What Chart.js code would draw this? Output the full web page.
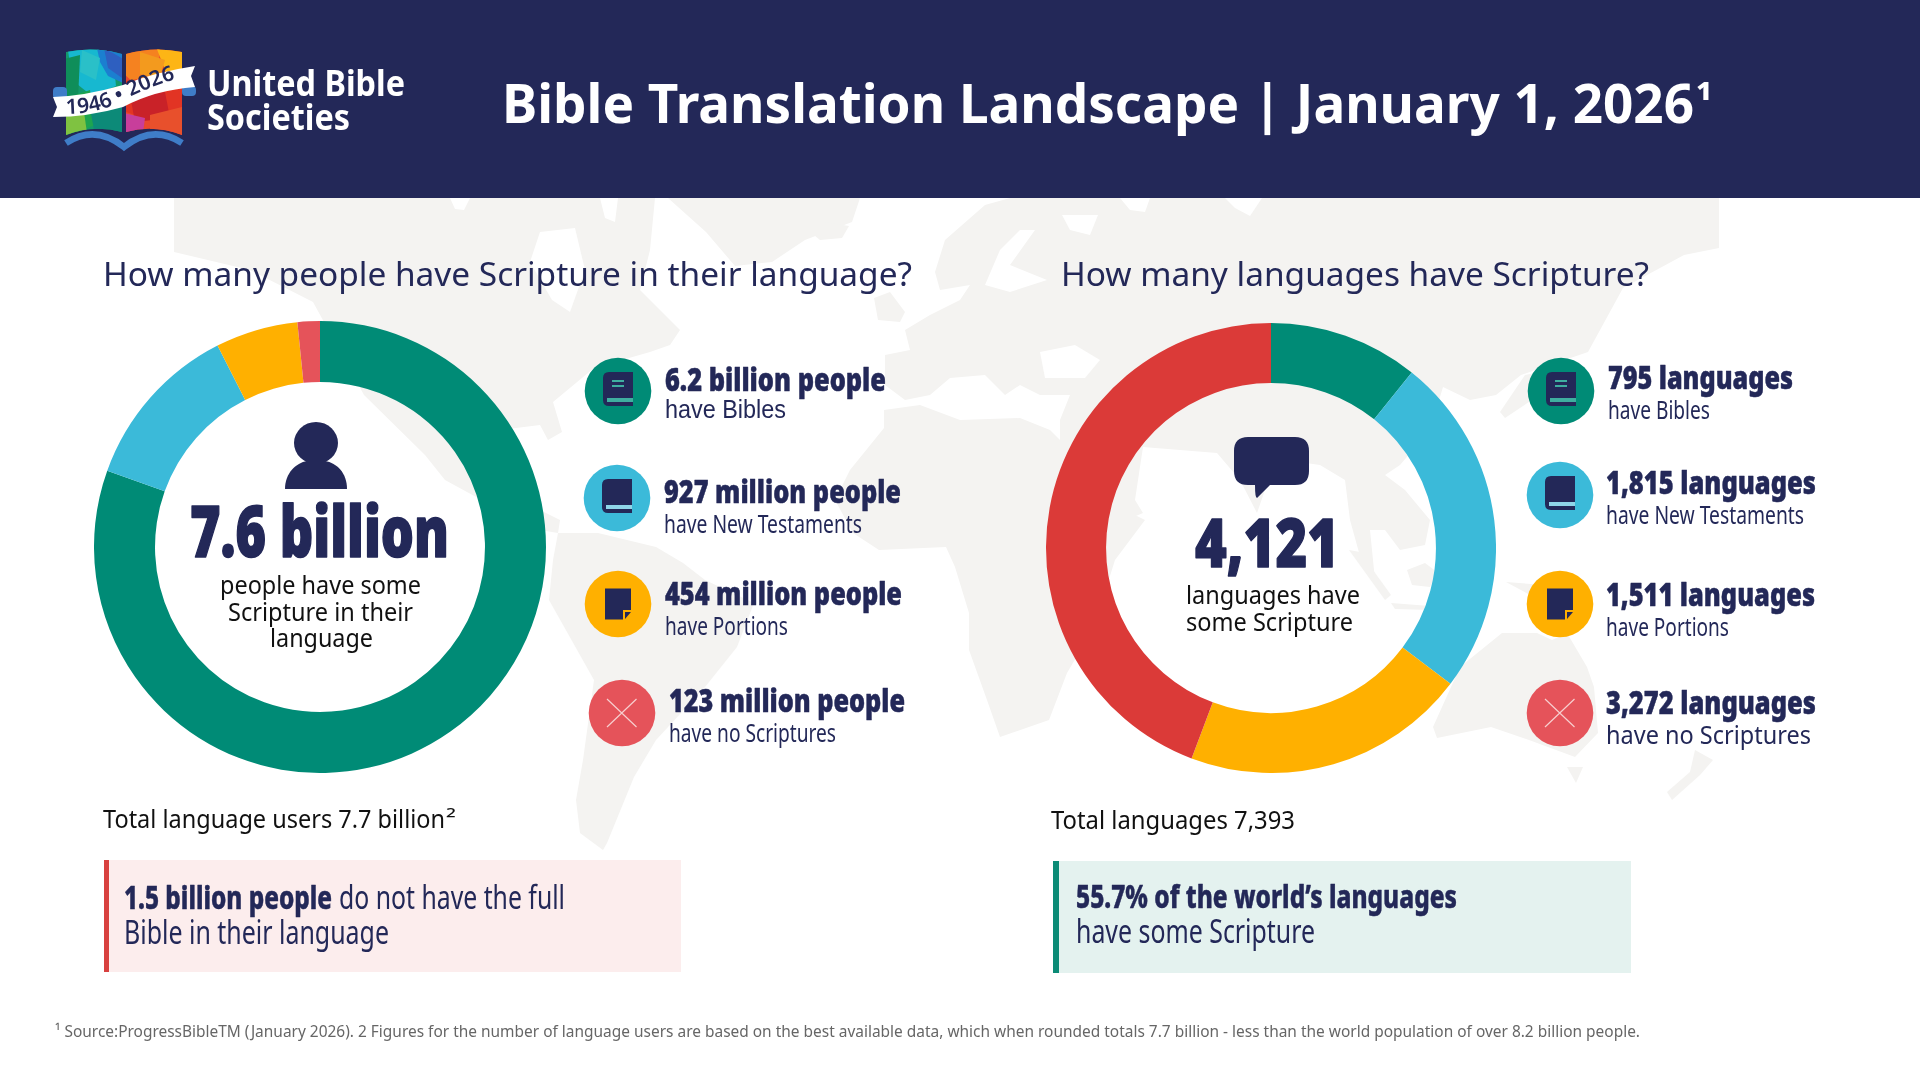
<!DOCTYPE html>
<html lang="en">
<head>
<meta charset="utf-8">
<title>Bible Translation Landscape</title>
<script src="https://cdn.jsdelivr.net/npm/chart.js@4"></script>
<style>
  html, body { margin: 0; padding: 0; background: #fff; width: 1920px; height: 1080px; overflow: hidden; }
  svg, canvas { position: absolute; left: 0; top: 0; display: block; }
  #peopleChart { left: 94px; top: 321px; }
  #languageChart { left: 1046px; top: 323px; }
  text { font-family: "Noto Sans", sans-serif; }
</style>
</head>
<body>
<svg id="map" width="1920" height="1080" viewBox="0 0 1920 1080"></svg>
<canvas id="peopleChart" width="452" height="452"></canvas>
<canvas id="languageChart" width="450" height="450"></canvas>
<svg id="page" width="1920" height="1080" viewBox="0 0 1920 1080"></svg>
<script>
// Reporting categories shared by both rings
const categories = ['Bibles', 'New Testaments', 'Portions', 'No Scriptures'];

// People per category, in millions
const peopleValues = [6200, 927, 454, 123];
const peopleHeadlines = ['6.2 billion people', '927 million people', '454 million people', '123 million people'];

// Languages per category
const languageValues = [795, 1815, 1511, 3272];
const languageHeadlines = ['795 languages', '1,815 languages', '1,511 languages', '3,272 languages'];

const subLabels = ['have Bibles', 'have New Testaments', 'have Portions', 'have no Scriptures'];

const NAVY = '#232858';
const peopleColors = ['#008B76', '#3BBAD9', '#FFB000', '#E5535A'];
const languageColors = ['#008B76', '#3BBAD9', '#FFB000', '#DB3A38'];
const badgeColors = ['#008B76', '#3BBAD9', '#FFB000', '#E5535A'];

function ring(id, values, colors, cutout) {
  return new Chart(document.getElementById(id), {
    type: 'doughnut',
    data: {
      labels: categories,
      datasets: [{ data: values, backgroundColor: colors, borderWidth: 0, hoverOffset: 0 }]
    },
    options: {
      responsive: false,
      animation: false,
      cutout: cutout,
      rotation: 0,
      layout: { padding: 0 },
      plugins: { legend: { display: false }, tooltip: { enabled: false } }
    }
  });
}
ring('peopleChart', peopleValues, peopleColors, '73%');
ring('languageChart', languageValues, languageColors, '73.3%');

// --- SVG helpers -----------------------------------------------------------
const NS = 'http://www.w3.org/2000/svg';
function el(parent, name, attrs, content) {
  const n = document.createElementNS(NS, name);
  for (const k in attrs) n.setAttribute(k, attrs[k]);
  if (content !== undefined) n.textContent = content;
  parent.appendChild(n);
  return n;
}
const page = document.getElementById('page');
const mapLayer = document.getElementById('map');

// Text is fitted to a set width so the condensed headings keep their proportions
function label(str, x, y, width, size, weight, color, opts) {
  opts = opts || {};
  const attrs = {
    x: x, y: y, 'font-size': size, 'font-weight': weight, fill: color,
    'text-anchor': opts.anchor || 'start'
  };
  if (width) { attrs.textLength = width; attrs.lengthAdjust = 'spacingAndGlyphs'; }
  if (opts.family) attrs.style = 'font-family:' + opts.family;
  if (opts.heavy) { attrs.stroke = color; attrs['stroke-width'] = opts.heavy; attrs['stroke-linejoin'] = 'round'; }
  return el(opts.parent || page, 'text', attrs, str);
}

// --- Faint world map behind the charts ------------------------------------
const LAND = '#F4F3F1';
const landShapes = [
  // North America
  '174,198 655,198 650,250 640,290 680,330 670,345 650,352 594,368 553,402 562,432 548,440 540,425 500,430 495,470 520,500 560,520 558,533 540,530 500,510 445,480 425,455 364,395 313,302 250,270 174,252',
  // Greenland
  '668,198 860,198 852,222 805,240 772,262 735,266 706,232',
  // Iceland
  '808,230 825,222 849,226 842,238 820,240',
  // South America
  '558,533 598,533 656,547 683,563 705,580 754,603 737,647 705,687 656,740 634,777 607,843 603,850 580,833 576,800 583,760 594,680 549,600 553,560',
  // Africa
  '884,410 920,405 960,420 1020,418 1050,430 1090,470 1125,510 1145,520 1115,560 1094,627 1067,673 1049,720 1000,737 987,700 969,650 969,613 955,567 946,547 879,550 853,533 835,500 850,470 884,428',
  // Eurasia
  '935,272 945,240 985,205 1010,198 1719,198 1719,248 1684,255 1623,288 1588,352 1521,375 1496,395 1470,400 1443,387 1430,430 1400,465 1385,475 1405,490 1430,520 1425,545 1400,550 1385,530 1370,530 1375,580 1363,567 1350,520 1345,480 1320,465 1285,460 1265,490 1257,513 1240,480 1217,453 1143,447 1135,500 1143,513 1110,527 1090,500 1060,445 1060,420 1070,395 1040,395 1020,385 1005,395 985,375 950,378 930,395 905,400 885,385 885,355 910,350 905,330 930,315 960,300 970,285 940,290',
  // Great Britain
  '874,298 890,292 905,312 900,322 878,320',
  // Sumatra, Borneo, Java, New Guinea
  '1349,550 1360,552 1391,595 1385,600',
  '1407,570 1425,563 1437,572 1430,587 1412,585',
  '1391,603 1430,606 1430,610 1395,609',
  '1506,582 1545,585 1583,600 1565,603 1530,595',
  // Japan
  '1525,375 1540,372 1532,400 1505,418 1500,412',
  // Australia
  '1433,727 1460,667 1502,633 1537,633 1552,640 1567,633 1587,667 1594,687 1598,733 1575,757 1529,740 1491,727 1437,738',
  // Tasmania, New Zealand
  '1567,767 1583,767 1576,783',
  '1695,750 1713,760 1700,775 1672,800 1667,792 1690,772'
];
landShapes.forEach(p => el(mapLayer, 'polygon', { points: p, fill: LAND }));

// Inland seas cut back out of the land
const waterShapes = [
  '540,232 575,228 585,270 570,312 552,300 530,262',
  '985,285 1000,250 1020,230 1035,230 1010,265 1047,280 1010,292',
  '1062,215 1098,215 1090,235 1070,230',
  '1040,352 1075,345 1100,360 1085,378 1045,378',
  '1120,198 1150,198 1145,212 1130,210',
  '1225,198 1262,198 1250,216 1235,208',
  '600,198 618,198 615,222 605,218',
  '450,198 470,198 464,210 455,209'
];
waterShapes.forEach(p => el(mapLayer, 'polygon', { points: p, fill: '#fff' }));

// --- Header band -----------------------------------------------------------
el(page, 'rect', { x: 0, y: 0, width: 1920, height: 198, fill: NAVY });

// Anniversary logo: an open book in stained-glass colours
const defs = el(page, 'defs', {});
const clipL = el(defs, 'clipPath', { id: 'pageL' });
el(clipL, 'path', { d: 'M66 52 Q94 46 122 54 L122 132 Q94 124 66 135 Z' });
const clipR = el(defs, 'clipPath', { id: 'pageR' });
el(clipR, 'path', { d: 'M126 54 Q154 46 182 52 L182 135 Q154 124 126 132 Z' });
el(defs, 'path', { id: 'ribbonLine', d: 'M66 114 Q98 114 124 100 Q150 86 180 78' });

const leftFacets = [
  ['#139A6B', '60,40 125,40 125,140 60,140'],
  ['#17B8D0', '68,50 112,46 116,86 92,96 72,80'],
  ['#1B7FD0', '96,44 125,44 125,84 108,76 100,62'],
  ['#2AC0C8', '82,50 100,58 96,80 80,72'],
  ['#2E5FC0', '104,48 125,60 122,78 108,68'],
  ['#0F8E5A', '60,60 80,55 78,100 60,110'],
  ['#1DA450', '60,100 90,90 95,125 60,140'],
  ['#7FC241', '60,118 84,112 88,140 60,140'],
  ['#0C8A78', '88,98 125,90 125,140 96,140']
];
const rightFacets = [
  ['#E9472E', '120,40 190,40 190,140 120,140'],
  ['#F58220', '122,48 160,44 158,78 135,84 122,72'],
  ['#FDB515', '155,44 190,44 190,85 168,78'],
  ['#F39A1E', '140,52 165,60 160,78 140,74'],
  ['#E23424', '120,82 158,76 190,92 190,125 150,120 120,110'],
  ['#C92228', '130,95 165,92 170,118 135,122'],
  ['#C83E9B', '120,112 145,118 142,140 120,140'],
  ['#E8502C', '150,115 190,105 190,140 150,140']
];
const gL = el(page, 'g', { 'clip-path': 'url(#pageL)' });
leftFacets.forEach(f => el(gL, 'polygon', { points: f[1], fill: f[0] }));
const gR = el(page, 'g', { 'clip-path': 'url(#pageR)' });
rightFacets.forEach(f => el(gR, 'polygon', { points: f[1], fill: f[0] }));

el(page, 'path', { d: 'M66 143 Q95 124 124 147 Q153 124 182 143', fill: 'none', stroke: '#3F7DC8', 'stroke-width': 6.5 });
el(page, 'rect', { x: 53, y: 87, width: 14, height: 12, rx: 4, fill: '#3F7DC8' });
el(page, 'rect', { x: 182, y: 86, width: 14, height: 10, rx: 4, fill: '#3F7DC8' });
el(page, 'path', { d: 'M53 97 Q85 96 123 85 Q155 72 195 66 L191 76 L195 87 Q155 90 123 107 Q88 117 53 117 L57 107 Z', fill: '#fff' });
const ribbonText = el(page, 'text', { 'font-size': 21, 'font-weight': 600, fill: NAVY });
el(ribbonText, 'textPath', { href: '#ribbonLine', textLength: 116, lengthAdjust: 'spacing' }, '1946 • 2026');

label('United Bible', 207, 96, 198, 36, 700, '#fff');
label('Societies', 207, 130, 143, 36, 700, '#fff');
label('Bible Translation Landscape | January 1, 2026', 502, 123, 1192, 53, 700, '#fff');
label('¹', 1696, 117, 17, 42, 700, '#fff');

// --- Section headings ------------------------------------------------------
label('How many people have Scripture in their language?', 103, 286, 809, 33, 400, NAVY);
label('How many languages have Scripture?', 1061, 286, 588, 33, 400, NAVY);

// --- Ring centres ----------------------------------------------------------
// Person icon
el(page, 'ellipse', { cx: 316, cy: 443, rx: 22, ry: 21, fill: NAVY });
el(page, 'path', { d: 'M285 489 C285 473 296 463 307 461 L325 461 C337 463 347 473 347 489 Z', fill: NAVY });
label('7.6 billion', 190, 557, 259, 70, 900, NAVY, { heavy: 1.6 });
label('people have some', 220, 594, 201, 25, 400, '#111');
label('Scripture in their', 228, 621, 185, 25, 400, '#111');
label('language', 270, 647, 103, 25, 400, '#111');

// Speech bubble icon
el(page, 'path', {
  d: 'M1248 437 H1295 Q1309 437 1309 451 V471 Q1309 485 1295 485 H1270 L1257 498 Q1255 498 1255 485 H1248 Q1234 485 1234 471 V451 Q1234 437 1248 437 Z',
  fill: NAVY
});
label('4,121', 1195, 567, 144, 68, 900, NAVY, { heavy: 1.4 });
label('languages have', 1186, 604, 174, 25, 400, '#111');
label('some Scripture', 1186, 631, 167, 25, 400, '#111');

// --- Legend badges ---------------------------------------------------------
function badge(cx, cy, kind, color, tint) {
  el(page, 'circle', { cx: cx, cy: cy, r: 33.3, fill: color });
  const g = el(page, 'g', { transform: 'translate(' + cx + ' ' + cy + ')' });
  if (kind === 0 || kind === 1) {
    el(g, 'path', { d: 'M-9 -19 H15 V15 H-9 Q-15 15 -15 9 V-13 Q-15 -19 -9 -19 Z', fill: NAVY });
    el(g, 'rect', { x: -11, y: 7, width: 26, height: 4, fill: tint });
    if (kind === 0) {
      el(g, 'rect', { x: -6, y: -11, width: 12, height: 2, fill: tint });
      el(g, 'rect', { x: -6, y: -6, width: 12, height: 2, fill: tint });
    }
  } else if (kind === 2) {
    el(g, 'polygon', { points: '-13,-15.5 13,-15.5 13,6 5,6 5,15.5 -13,15.5', fill: NAVY });
    el(g, 'polygon', { points: '7,8 13,8 7,15', fill: NAVY });
  } else {
    el(g, 'path', { d: 'M-15 -14 L14.5 14 M14.5 -14 L-15 14', stroke: '#F7CFCF', 'stroke-width': 1.2 });
  }
}
const tints = ['#3FAFA0', '#8FD5E8'];
const family = '"Noto Sans", sans-serif';

const peopleRows = [
  { cx: 618, cy: 391, tx: 665, head: 391, headW: 221, sub: 418, subW: 121, subFamily: '"Liberation Sans", sans-serif' },
  { cx: 617, cy: 498, tx: 664, head: 503, headW: 237, sub: 533, subW: 198 },
  { cx: 618, cy: 604, tx: 665, head: 605, headW: 237, sub: 635, subW: 123 },
  { cx: 622, cy: 713, tx: 669, head: 712, headW: 236, sub: 742, subW: 167 }
];
const languageRows = [
  { cx: 1561, cy: 391, tx: 1608, head: 389, headW: 185, sub: 419, subW: 102 },
  { cx: 1560, cy: 495, tx: 1606, head: 494, headW: 210, sub: 524, subW: 198 },
  { cx: 1560, cy: 604, tx: 1606, head: 606, headW: 209, sub: 636, subW: 123 },
  { cx: 1560, cy: 713, tx: 1606, head: 714, headW: 210, sub: 744, subW: 205 }
];
function legend(rows, headlines) {
  rows.forEach((r, i) => {
    badge(r.cx, r.cy, i, badgeColors[i], tints[i]);
    label(headlines[i], r.tx, r.head, r.headW, 32, 900, NAVY, { heavy: 0.5 });
    label(subLabels[i], r.tx, r.sub, r.subW, 25, 400, NAVY, { family: r.subFamily || family });
  });
}
legend(peopleRows, peopleHeadlines);
legend(languageRows, languageHeadlines);

// --- Totals and call-outs --------------------------------------------------
label('Total language users 7.7 billion', 103, 828, 342, 26, 400, '#111');
label('²', 446, 826, 10, 20, 400, '#111');
label('Total languages 7,393', 1051, 829, 244, 26, 400, '#111');

el(page, 'rect', { x: 104, y: 860, width: 577, height: 112, fill: '#FCEDED' });
el(page, 'rect', { x: 104, y: 860, width: 5, height: 112, fill: '#D8413F' });
label('1.5 billion people', 124, 909, 208, 32, 800, NAVY, { heavy: 0.5 });
label('do not have the full', 339, 909, 226, 32, 400, NAVY);
label('Bible in their language', 124, 944, 265, 32, 400, NAVY);

el(page, 'rect', { x: 1053, y: 861, width: 578, height: 112, fill: '#E4F2EF' });
el(page, 'rect', { x: 1053, y: 861, width: 6, height: 112, fill: '#0B8B76' });
label('55.7% of the world’s languages', 1076, 908, 381, 32, 800, NAVY, { heavy: 0.5 });
label('have some Scripture', 1076, 943, 239, 32, 400, NAVY);

// --- Source note -----------------------------------------------------------
label('¹ Source:ProgressBibleTM (January 2026). 2 Figures for the number of language users are based on the best available data, which when rounded totals 7.7 billion - less than the world population of over 8.2 billion people.',
  55, 1037, 1585, 17, 400, '#666');
</script>
</body>
</html>
